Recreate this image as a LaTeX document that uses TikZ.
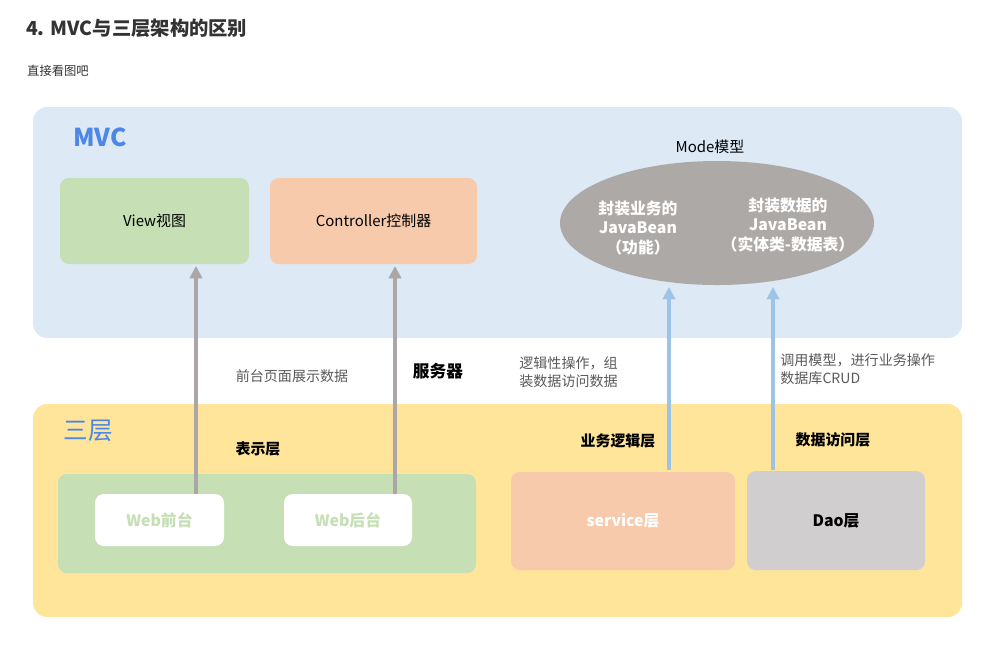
\documentclass[tikz,border=0pt]{standalone}
\usepackage{fontspec}
\setmainfont{Noto Sans CJK SC}
\newfontfamily\serifcjk{Noto Sans CJK SC}
\usetikzlibrary{shapes.geometric,arrows.meta}
\definecolor{mvcbg}{HTML}{DDE9F5}
\definecolor{sanbg}{HTML}{FFE59A}
\definecolor{gbox}{HTML}{C6DFB4}
\definecolor{obox}{HTML}{F7CAAC}
\definecolor{ell}{HTML}{ADA9A6}
\definecolor{dao}{HTML}{D0CECE}
\definecolor{blu}{HTML}{4C86E6}
\definecolor{barr}{HTML}{9DC3E6}
\definecolor{garr}{HTML}{ABA7A6}
\definecolor{txt}{HTML}{333333}
\definecolor{lbl}{HTML}{595959}
\tikzset{
 panel/.style={rounded corners=8pt},
 box/.style={rounded corners=5pt},
 lab/.style={font=\fontsize{8}{10}\selectfont, text=lbl, inner sep=0},
 boldlab/.style={font=\fontsize{8.5}{10}\selectfont\bfseries, text=black, inner sep=0},
 garrow/.style={draw=garr, line width=2.2pt, -{Triangle[length=7pt,width=7pt]}},
 barrow/.style={draw=barr, line width=2.2pt, -{Triangle[length=7pt,width=7pt]}}
}
\begin{document}
\begin{tikzpicture}[x=0.02cm,y=-0.02cm]
\useasboundingbox (0,0) rectangle (1000,654);
\node[anchor=west, font=\fontsize{11}{13}\selectfont\bfseries, text=txt] (title) at (20,28) {4. MVC与三层架构的区别};
\node[anchor=west, font=\fontsize{7}{9}\selectfont, text=txt] (sub) at (21,71) {直接看图吧};
% MVC panel
\fill[mvcbg, panel] (33,107) rectangle (962,338);
\node[font=\fontsize{14}{16}\selectfont\bfseries, text=blu] (mvc) at (100,137) {MVC};
\node[fill=gbox, box, minimum width=189*0.02cm, minimum height=86*0.02cm, font=\fontsize{8.5}{10}\selectfont] (view) at (154.5,221) {View视图};
\node[fill=obox, box, minimum width=207*0.02cm, minimum height=86*0.02cm, font=\fontsize{8.5}{10}\selectfont] (ctrl) at (373.5,221) {Controller控制器};
\node[font=\fontsize{8.5}{10}\selectfont] (modet) at (710,147) {Mode模型};
\node[ellipse, fill=ell, minimum width=314*0.02cm, minimum height=124*0.02cm, inner sep=0] (model) at (717,223) {};
\node[text=white, align=center, font=\fontsize{9}{11}\selectfont\bfseries] (m1) at (638,228) {封装业务的\\JavaBean\\（功能）};
\node[text=white, align=center, font=\fontsize{9}{11}\selectfont\bfseries] (m2) at (788,225) {封装数据的\\JavaBean\\（实体类-数据表）};
% 三层 panel
\fill[sanbg, panel] (33,404) rectangle (962,617);
\node[font=\fontsize{14}{16}\selectfont, text=blu] (san) at (88,431) {三层};
\node[boldlab] (bsc) at (258,449) {表示层};
\fill[gbox, box] (58,474) rectangle (476,573);
\node[fill=white, box, minimum width=129*0.02cm, minimum height=52*0.02cm, text=gbox, font=\fontsize{9}{11}\selectfont\bfseries] (web1) at (159.5,520) {Web前台};
\node[fill=white, box, minimum width=128*0.02cm, minimum height=52*0.02cm, text=gbox, font=\fontsize{9}{11}\selectfont\bfseries] (web2) at (348,520) {Web后台};
\node[fill=obox, box, minimum width=224*0.02cm, minimum height=98*0.02cm, text=white, font=\fontsize{9}{11}\selectfont\bfseries] (svc) at (623,521) {service层};
\node[fill=dao, box, minimum width=178*0.02cm, minimum height=99*0.02cm, font=\fontsize{9}{11}\selectfont\bfseries] (dao) at (836,520.5) {Dao层};
% arrows
\draw[garrow] (web1.north -| 196,0) -- (196,266);
\draw[garrow] (web2.north -| 395,0) -- (395,266);
\draw[barrow] (669,470) -- (669,287);
\draw[barrow] (773,470) -- (773,287);
% labels
\node[lab] (l1) at (292,376) {前台页面展示数据};
\node[boldlab, font=\fontsize{9.5}{11}\selectfont\bfseries] (l2) at (438,371) {服务器};
\node[lab, anchor=west, align=left] (l3) at (519,372) {逻辑性操作，组\\装数据访问数据};
\node[boldlab] (l4) at (618,441) {业务逻辑层};
\node[lab, anchor=west, align=left] (l5) at (780,369) {调用模型，进行业务操作\\数据库CRUD};
\node[boldlab] (l6) at (833,440) {数据访问层};
\end{tikzpicture}
\end{document}
